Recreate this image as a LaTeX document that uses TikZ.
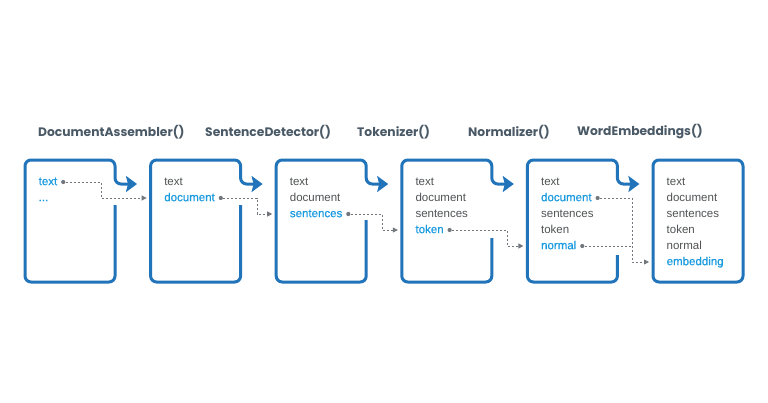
\documentclass[tikz,border=0pt]{standalone}
\usepackage{fontspec}
\setmainfont{Liberation Sans}
\newfontfamily\titlefont{Poppins}
\newfontfamily\hlfont{Liberation Sans}[FakeBold=0.7]
\usetikzlibrary{positioning, arrows.meta}
\definecolor{boxblue}{HTML}{2173BA}
\definecolor{hlblue}{HTML}{1A9BE0}
\definecolor{itemgray}{HTML}{505254}
\definecolor{titlegray}{HTML}{4A5966}
\definecolor{linkgray}{HTML}{72777D}
\tikzset{
	stage/.style={
		draw=none,
		inner sep=0pt,
		outer sep=0pt,
		minimum width=90pt,
		minimum height=122pt
	},
	frame/.style={
		draw=boxblue,
		line width=3pt,
		rounded corners=6pt,
		-{Stealth[length=11pt,width=16pt,inset=2pt]}
	},
	title/.style={
		anchor=west,
		inner sep=0pt,
		text=titlegray,
		font=\titlefont\bfseries\fontsize{12.3}{14}\selectfont
	},
	item/.style={
		anchor=west,
		inner sep=0pt,
		text height=1.5ex,
		text depth=.3ex,
		text=itemgray,
		font=\fontsize{11.5}{13}\selectfont
	},
	hl/.style={
		item,
		text=hlblue,
		font=\hlfont\fontsize{11.5}{13}\selectfont
	},
	dot/.style={
		circle,
		fill=linkgray,
		inner sep=0pt,
		minimum size=4.2pt
	},
	link/.style={
		draw=linkgray,
		line width=0.8pt,
		dash pattern=on 2pt off 2pt
	},
	feed/.style={
		link,
		shorten >=4pt,
		-{Triangle[length=5pt,width=5pt]}
	}
}

\begin{document}
\begin{tikzpicture}[x=1pt, y=-1pt]
	\fill[white] (0,0) rectangle (768,402);
	\useasboundingbox (0,0) rectangle (768,402);

	% stages
	\foreach \i in {1,...,6} {
		\node[stage] (box\i) at ({70+125.6*(\i-1)}, 221) {};
		\coordinate (c\i) at ({38.5+125.6*(\i-1)}, 0);
	}

	% frames with the outgoing arrow
	\foreach \i/\gap in {1/205, 2/205, 3/220, 4/238, 5/255} {
		\draw[frame] (box\i.east |- 0,\gap) -- (box\i.south east) -- (box\i.south west)
			-- (box\i.north west) -- (box\i.north east) -- (box\i.east |- 0,184) -- ++(22,0);
	}
	\draw[draw=boxblue, line width=3pt, rounded corners=6pt]
		(box6.north west) rectangle (box6.south east);

	% annotator names
	\node[title] (t1) at (38, 132) {DocumentAssembler()};
	\node[title] (t2) at (205, 132) {SentenceDetector()};
	\node[title] (t3) at (357, 132) {Tokenizer()};
	\node[title] (t4) at (468, 132) {Normalizer()};
	\node[title] (t5) at (577, 132) {WordEmbeddings()};

	% columns
	\node[hl] (i1-1) at (c1 |- 0,182) {text};
	\node[hl] (i1-2) at (c1 |- 0,198) {...};

	\node[item] (i2-1) at (c2 |- 0,182) {text};
	\node[hl] (i2-2) at (c2 |- 0,198) {document};

	\node[item] (i3-1) at (c3 |- 0,182) {text};
	\node[item] (i3-2) at (c3 |- 0,198) {document};
	\node[hl] (i3-3) at (c3 |- 0,214) {sentences};

	\node[item] (i4-1) at (c4 |- 0,182) {text};
	\node[item] (i4-2) at (c4 |- 0,198) {document};
	\node[item] (i4-3) at (c4 |- 0,214) {sentences};
	\node[hl] (i4-4) at (c4 |- 0,230) {token};

	\node[item] (i5-1) at (c5 |- 0,182) {text};
	\node[hl] (i5-2) at (c5 |- 0,198) {document};
	\node[item] (i5-3) at (c5 |- 0,214) {sentences};
	\node[item] (i5-4) at (c5 |- 0,230) {token};
	\node[hl] (i5-5) at (c5 |- 0,246) {normal};

	\node[item] (i6-1) at (c6 |- 0,182) {text};
	\node[item] (i6-2) at (c6 |- 0,198) {document};
	\node[item] (i6-3) at (c6 |- 0,214) {sentences};
	\node[item] (i6-4) at (c6 |- 0,230) {token};
	\node[item] (i6-5) at (c6 |- 0,246) {normal};
	\node[hl] (i6-6) at (c6 |- 0,262) {embedding};

	% output dots
	\node[dot, right=3.5pt of i1-1] (d1) {};
	\node[dot, right=3.5pt of i2-2] (d2) {};
	\node[dot, right=3.5pt of i3-3] (d3) {};
	\node[dot, right=3.5pt of i4-4] (d4) {};
	\node[dot, right=3.5pt of i5-2] (d5) {};
	\node[dot, right=3.5pt of i5-5] (d6) {};

	% turning points
	\coordinate (k1) at (101, 0);
	\coordinate (k2) at (257, 0);
	\coordinate (k3) at (382, 0);
	\coordinate (k4) at (507, 0);
	\coordinate (k5) at (632, 0);

	% dashed connections
	\draw[feed] (d1) -- (d1 -| k1) |- (box2.west |- i2-2);
	\draw[feed] (d2) -- (d2 -| k2) |- (box3.west |- i3-3);
	\draw[feed] (d3) -- (d3 -| k3) |- (box4.west |- i4-4);
	\draw[feed] (d4) -- (d4 -| k4) |- (box5.west |- i5-5);
	\draw[feed] (d5) -- (d5 -| k5) |- (box6.west |- i6-6);
	\draw[link] (d6) -- (d6 -| k5);
\end{tikzpicture}
\end{document}
